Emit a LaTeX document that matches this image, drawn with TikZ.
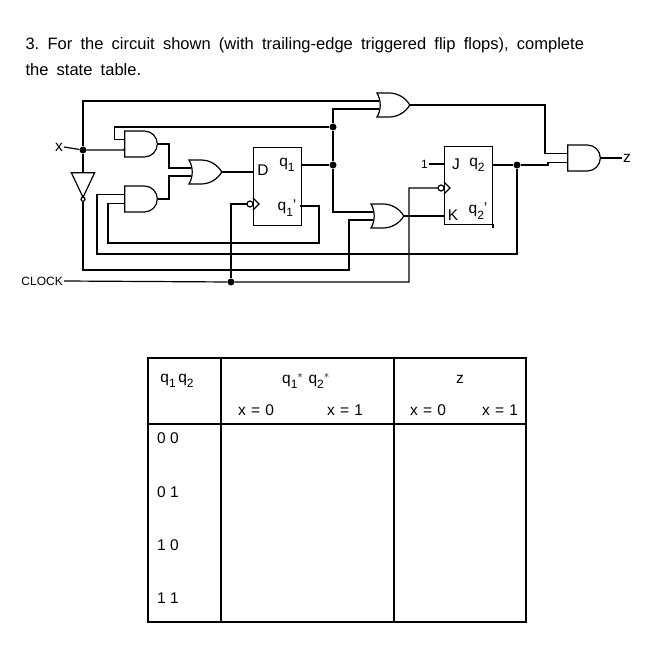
\documentclass[tikz,border=0pt]{standalone}
\usepackage{fontspec}
\setmainfont{Liberation Sans}
\usetikzlibrary{shapes.gates.logic.US,positioning}

\newcommand{\qs}[1]{q\raisebox{-0.35em}{\fontsize{12}{12}\selectfont #1}}

\tikzset{
  wire/.style={line width=1.2pt},
  gate/.style={draw,line width=1.2pt,inner sep=0pt,logic gate inputs=nn},
  andg/.style={gate,and gate US,minimum width=25pt,minimum height=26pt},
  org/.style={gate,or gate US,minimum width=32pt,minimum height=24pt},
  ff/.style={draw,line width=1.2pt,minimum width=48pt,minimum height=78pt,anchor=north west},
  dot/.style={circle,fill,inner sep=0pt,minimum size=7pt},
  lbl/.style={font=\fontsize{15.5}{18}\selectfont,inner sep=1pt}
}

\begin{document}
\begin{tikzpicture}[x=1pt,y=-1pt]
  \useasboundingbox (0,0) rectangle (660,655);

  % question
  \node[anchor=west,font=\fontsize{16.5}{19}\selectfont] (q) at (22,45) {\spaceskip=0.5em 3.\enspace For the circuit shown (with trailing-edge triggered flip flops), complete};
  \node[anchor=west,font=\fontsize{16.5}{19}\selectfont] (q2) at (22,70) {\spaceskip=0.5em the state table.};

  % gates
  \node[andg] (and1) at (140,144) {};
  \node[andg] (and2) at (140,199) {};
  \node[org]  (orD)  at (203,172) {};
  \node[org]  (orT)  at (391,105) {};
  \node[org]  (orK)  at (385,216) {};
  \node[andg] (andZ) at (583,158) {};
  \node[gate,not gate US,rotate=-90,minimum width=26pt,minimum height=20pt] (inv) at (83,181) {};

  % flip flops
  \node[ff] (ffD) at (253,147) {};
  \node[ff] (ffJK) at (444,146) {};
  \draw[wire] (253,198) -- (259,204) -- (253,210);
  \draw[wire] (444,182) -- (450,188) -- (444,194);
  \draw[wire,fill=white] (250,204) circle (3pt);
  \draw[wire,fill=white] (441,188) circle (3pt);
  \node[lbl] (dD) at (263,170) {D};
  \node[lbl] (dq) at (287,165) {\qs{1}};
  \node[lbl] (dqn) at (287,208) {\qs{1}'};
  \node[lbl] (jJ) at (456,164) {J};
  \node[lbl] (jq) at (477,165) {\qs{2}};
  \node[lbl] (jK) at (453,215) {K};
  \node[lbl] (jqn) at (478,211) {\qs{2}'};
  \node[lbl,anchor=east,font=\fontsize{12}{14}\selectfont] (one) at (429,164) {1};
  \draw[wire] (one.east) -- (444,164);

  % labels and junctions
  \node[lbl,anchor=east] (xin) at (64,147) {x};
  \node[lbl,anchor=west] (zout) at (622,158) {z};
  \node[lbl,anchor=east,font=\fontsize{12}{14}\selectfont] (clk) at (64,281) {CLOCK};
  \node[dot] (jx) at (83,150) {};
  \node[dot] (jt) at (333,127) {};
  \node[dot] (jq1) at (333,165) {};
  \node[dot] (jq2) at (517,165) {};
  \node[dot] (jc) at (231,282) {};

  % wiring
  \draw[wire] (xin.east) -- (jx) -- (jx -| and1.input 2) -- (and1.input 2);
  \draw[wire] (jx) |- (orT.input 1);
  \draw[wire] (jx) -- (inv.input);
  \draw[wire] (inv.output) |- (349,270) |- (orK.input 2);
  \draw[wire] (and1.input 1) -- ++(-10,0) |- (jt);
  \draw[wire] (jt) |- (orT.input 2);
  \draw[wire] (jt) -- (jq1) |- (orK.input 1);
  \draw[wire] (ffD.north east |- jq1) -- (jq1);
  \draw[wire] (and1.output) -| (169,0 |- orD.input 1) -- (orD.input 1);
  \draw[wire] (and2.output) -| (169,0 |- orD.input 2) -- (orD.input 2);
  \draw[wire] (orD.output) -- (253,0 |- orD.output);
  \draw[wire] (300,206) -| (319,243) -| (108,0 |- and2.input 2) -- (and2.input 2);
  \draw[wire] (and2.input 1) -| (97,254) -| (jq2);
  \draw[wire] (493,165) -- (jq2) -- (548,165) |- (andZ.input 2);
  \draw[wire] (orT.output) -| (545,0 |- andZ.input 1) -- (andZ.input 1);
  \draw[wire] (andZ.output) -- (zout.west);
  \draw[wire] (orK.output) -- (444,0 |- orK.output);
  \draw[wire] (clk.east) -- (jc) -- (409,282) |- (438,188);
  \draw[wire] (jc) |- (247,204);
  \draw[wire] (493,224) -- (493,228);

  % state table
  \draw[line width=1.4pt] (148,358) rectangle (526,622);
  \draw[line width=1.4pt] (148,424) -- (526,424);
  \draw[line width=1.4pt] (221,358) -- (221,622);
  \draw[line width=1.4pt] (394,358) -- (394,622);
  \node[lbl] (hq) at (177,381) {\qs{1}\,\qs{2}};
  \node[lbl] (hn) at (306,381) {\qs{1}$^{*}$\,\,\qs{2}$^{*}$};
  \node[lbl] (hz) at (460,379) {z};
  \foreach \xx/\nm in {256/a,345/b,428/c,500/d}
    \node[lbl] (h\nm) at (\xx,410) {x\,\,=\,\,\ifnum\xx=256 0\else\ifnum\xx=428 0\else 1\fi\fi};
  \foreach \yy/\st in {438/0 0,492/0 1,545/1 0,598/1 1}
    \node[lbl,anchor=west] (r\yy) at (156,\yy) {\st};
\end{tikzpicture}
\end{document}
